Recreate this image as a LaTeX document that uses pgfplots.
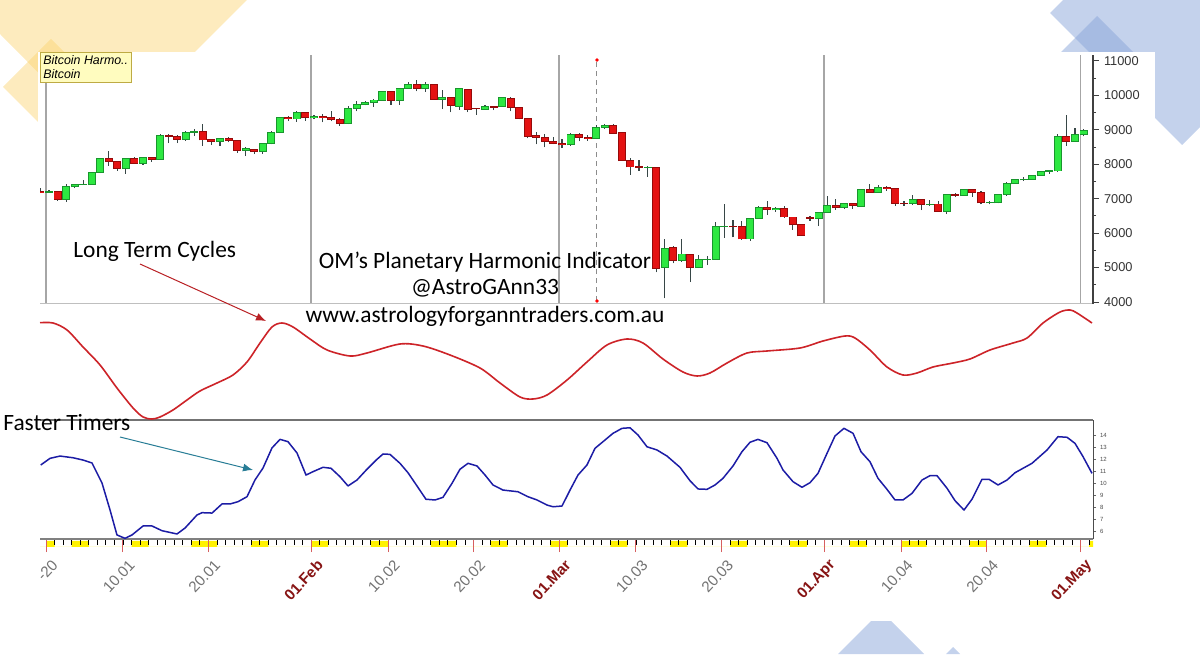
\documentclass[border=0pt]{standalone}
\usepackage{pgfplots}
\pgfplotsset{compat=1.18}
\usepackage{pgfplotstable}
\usetikzlibrary{arrows.meta}
\usepackage{fontspec}
\setmainfont{Carlito}
\newfontfamily\arial{Liberation Sans}
\definecolor{cG}{RGB}{45,232,65}
\definecolor{cGd}{RGB}{25,150,45}
\definecolor{cR}{RGB}{228,18,18}
\definecolor{cRd}{RGB}{150,10,10}
\definecolor{wick}{RGB}{55,70,70}
\definecolor{redline}{RGB}{205,35,40}
\definecolor{blueline}{RGB}{28,28,165}
\definecolor{dred}{RGB}{135,20,20}
\definecolor{ylw}{RGB}{255,242,0}
\definecolor{slideblue}{RGB}{137,165,217}
\definecolor{slideyel}{RGB}{250,210,110}
\definecolor{teal}{RGB}{40,125,150}
\definecolor{tickred}{RGB}{215,95,95}

% s = slot (trading day index from 1 Jan), o h l c
\pgfplotstableread{
s o h l c
0 7195 7255 7175 7200
2 6985 7413 6915 7345
3 7345 7428 7309 7411
4 7411 7544 7400 7411
5 7410 7781 7409 7769
6 7768 8178 7744 8163
9 7879 8166 7728 8166
11 8034 8197 7985 8193
13 8141 8880 8141 8828
16 8726 8958 8677 8929
17 8927 9012 8827 8942
20 8656 8756 8544 8745
23 8405 8515 8238 8445
25 8364 8602 8310 8597
26 8597 8977 8577 8910
27 8912 9370 8908 9358
29 9316 9553 9230 9508
31 9346 9439 9313 9393
35 9183 9701 9163 9614
36 9617 9824 9539 9730
37 9726 9849 9710 9796
38 9793 9890 9668 9866
39 9863 10130 9851 10117
41 9855 10210 9732 10207
42 10203 10393 10190 10327
44 10212 10380 10109 10313
46 9889 10164 9603 9935
48 9691 10190 9580 10186
51 9598 9723 9582 9687
53 9667 9955 9664 9925
61 8563 8921 8533 8869
64 8760 9142 8760 9078
65 9079 9167 9032 9122
70 7910 7951 7642 7911
72 5017 5838 4106 5564
74 5201 5836 5169 5393
76 5002 5371 4981 5226
77 5227 5331 5069 5239
78 5245 6329 5236 6192
79 6191 6844 5865 6199
82 5831 6443 5785 6417
83 6436 6789 6411 6734
85 6675 6764 6618 6716
90 6438 6612 6202 6607
91 6606 7088 6595 6794
93 6738 6878 6696 6865
95 6788 7271 6786 7271
97 7179 7385 7178 7335
101 6858 7119 6811 6971
103 6843 6958 6793 6843
105 6641 7134 6555 7117
107 7092 7269 7079 7257
110 6880 6934 6834 6880
111 6879 7145 6867 7117
112 7121 7491 7081 7429
113 7434 7574 7434 7550
114 7550 7641 7521 7570
115 7570 7700 7561 7680
116 7680 7796 7679 7795
117 7797 7814 7730 7807
118 7806 8871 7786 8801
120 8672 9048 8667 8864
121 8869 9011 8808 8988
}\up

\pgfplotstableread{
s o h l c
-1 7220 7300 7180 7195
1 7202 7212 6935 6985
7 8162 8397 7956 8079
8 8083 8083 7812 7879
10 8162 8218 8029 8037
12 8189 8197 8079 8144
14 8827 8890 8618 8807
15 8812 8846 8612 8723
18 8941 9165 8531 8706
19 8705 8745 8558 8658
21 8742 8792 8636 8681
22 8680 8687 8333 8407
24 8440 8444 8296 8368
28 9358 9406 9256 9317
30 9508 9521 9260 9351
32 9390 9468 9217 9345
33 9344 9540 9248 9294
34 9292 9331 9112 9181
40 10115 10129 9729 9857
43 10323 10457 10116 10215
45 10312 10341 9878 9889
47 9937 9954 9507 9702
49 10183 10193 9516 9593
50 9611 9638 9432 9609
52 9686 9686 9575 9664
54 9921 9951 9536 9651
55 9651 9652 9305 9341
56 9339 9339 8755 8820
57 8825 8933 8577 8785
58 8788 8888 8492 8673
59 8672 8790 8584 8599
60 8599 8726 8471 8563
62 8866 8908 8667 8788
63 8789 8844 8679 8756
66 9121 9163 8890 8909
67 8909 8910 8107 8108
68 8111 8177 7690 7923
69 7923 8136 7814 7909
71 7913 7929 4860 4970
73 5573 5625 5125 5201
75 5385 5385 4575 5015
80 6206 6378 5874 6185
81 6185 6359 5802 5831
84 6738 6942 6536 6681
86 6719 6793 6452 6470
87 6467 6467 6094 6243
88 6245 6250 5920 5922
89 6445 6500 6360 6440
92 6797 7003 6673 6734
94 6862 6883 6715 6791
96 7273 7427 7170 7176
98 7337 7365 7238 7303
99 7303 7303 6802 6866
100 6866 6940 6789 6859
102 6965 6965 6668 6846
104 6845 6928 6633 6642
106 7116 7167 7050 7097
108 7261 7273 7057 7190
109 7187 7220 6835 6882
119 8797 9440 8533 8658
}\down

\pgfplotsset{
  wickstyle/.style={draw=none, mark=none, forget plot,
    error bars/.cd, y dir=plus, y explicit, error mark=none,
    error bar style={draw=wick, line width=0.55pt, solid}},
  bodyout/.style={draw=none, mark=none, forget plot,
    error bars/.cd, y dir=plus, y explicit, error mark=none,
    error bar style={draw=#1, line width=4pt, solid}},
  bodyin/.style={draw=none, mark=none, forget plot,
    error bars/.cd, y dir=plus, y explicit, error mark=none,
    error bar style={draw=#1, line width=3.1pt, solid}},
}

\begin{document}
\begin{tikzpicture}
\useasboundingbox (0,0) rectangle (600pt,327pt);

% slide decorations
\begin{scope}[x=0.5pt,y=-0.5pt,yshift=327pt]
\clip (0,0) rectangle (1200,654);
\fill[slideyel,opacity=0.45] (0,0) -- (247,0) -- (106,141) -- (0,34) -- cycle;
\fill[slideyel,opacity=0.45] (51,39) -- (88,76) -- (40,124) -- (3,87) -- cycle;
\fill[slideblue,opacity=0.5] (1063,0) -- (1200,0) -- (1200,127) -- (1182,145) -- (1050,13) -- cycle;
\fill[slideblue,opacity=0.5] (1097,16) -- (1137,56) -- (1097,96) -- (1057,56) -- cycle;
\fill[slideblue,opacity=0.5] (881,611) -- (924,654) -- (838,654) -- cycle;
\fill[slideblue,opacity=0.5] (953,647) -- (960,654) -- (946,654) -- cycle;
\fill[white] (38,52) rectangle (1155,621);
\end{scope}

% ---------- candlestick panel ----------
\begin{axis}[at={(20pt,175pt)}, anchor=south west, scale only axis,
  width=526.5pt, height=124.5pt,
  xmin=-0.702, xmax=122.456, ymin=3942, ymax=11174,
  axis x line*=bottom, axis y line*=right,
  x axis line style={draw=black!25, line width=0.5pt, -},
  y axis line style={draw=black!75, line width=0.6pt, -},
  xtick={0,31,60,91,121}, xticklabel=\empty, xmajorgrids,
  major x tick style={draw=none},
  grid style={draw=black!35, line width=0.6pt},
  ytick={4000,5000,...,11000}, minor ytick={4500,5500,...,10500},
  scaled y ticks=false,
  tick align=outside, major tick length=3pt, minor tick length=1.6pt,
  y tick style={draw=black!75, line width=0.5pt},
  yticklabel style={font=\arial\fontsize{6.4}{7}\selectfont, text=black!80, xshift=-1pt,
    /pgf/number format/1000 sep={}, /pgf/number format/fixed},
  /pgf/number format/assume math mode=true,
]
\addplot[draw=black!45, dashed, dash pattern=on 2.5pt off 2pt, line width=0.5pt,
  mark=*, mark size=0.6pt, mark options={solid, fill=red, draw=red}]
  coordinates {(64.44,4029) (64.44,11028)};
\addplot[wickstyle] table[x expr=\thisrow{s}+0.35, y=l, y error expr={\thisrow{h}-\thisrow{l}}] \up;
\addplot[wickstyle] table[x expr=\thisrow{s}+0.35, y=l, y error expr={\thisrow{h}-\thisrow{l}}] \down;
\addplot[bodyout=cGd] table[x expr=\thisrow{s}+0.35, y expr={min(\thisrow{o},\thisrow{c})-15}, y error expr={abs(\thisrow{c}-\thisrow{o})+30}] \up;
\addplot[bodyin=cG] table[x expr=\thisrow{s}+0.35, y expr={min(\thisrow{o},\thisrow{c})+12}, y error expr={max(abs(\thisrow{c}-\thisrow{o})-24,0)}] \up;
\addplot[bodyout=cRd] table[x expr=\thisrow{s}+0.35, y expr={min(\thisrow{o},\thisrow{c})-15}, y error expr={abs(\thisrow{c}-\thisrow{o})+30}] \down;
\addplot[bodyin=cR] table[x expr=\thisrow{s}+0.35, y expr={min(\thisrow{o},\thisrow{c})+12}, y error expr={max(abs(\thisrow{c}-\thisrow{o})-24,0)}] \down;
\end{axis}

% ---------- long term cycles (red) ----------
\begin{axis}[at={(20pt,117pt)}, anchor=south west, scale only axis,
  width=526.5pt, height=57.5pt,
  xmin=-0.702, xmax=122.456, ymin=0, ymax=115,
  axis x line*=bottom, axis y line=none,
  x axis line style={draw=black!55, line width=0.8pt, -},
  xtick=\empty, ytick=\empty, clip=false]
\addplot[redline, line width=0.8pt, smooth, tension=0.5] coordinates {
(-0.70,97.3) (0.82,97) (2.46,90) (4.33,73) (6.32,55) (8.30,32) (10.18,12)
(11.35,3) (12.40,1) (13.33,3) (14.85,10) (16.49,20) (18.01,29) (20.0,37)
(21.87,45) (23.51,58) (25.03,77) (26.43,93) (27.60,97) (28.89,93) (30.88,81)
(32.87,70) (35.56,64) (37.54,67) (41.40,76) (44.09,74) (47.25,65) (50.76,52)
(53.10,37) (55.44,23) (56.96,21) (58.60,25) (60.94,40) (63.27,58) (65.61,75)
(67.95,81) (69.82,77) (72.16,61) (74.50,48) (76.14,44) (77.66,47) (79.65,57)
(81.99,67) (84.33,69) (88.19,72) (90.88,79) (93.45,84) (94.62,82) (96.37,70)
(98.36,53) (100.23,45) (101.87,47) (103.74,53) (106.08,57) (108.07,61)
(110.41,70) (113.10,77) (114.74,82) (116.61,97) (118.60,108) (119.77,110)
(120.58,107) (122.34,97)};
\end{axis}

% ---------- weekend / holiday strip ----------
\begin{axis}[at={(20pt,53.6pt)}, anchor=south west, scale only axis,
  width=526.5pt, height=3pt,
  xmin=-0.702, xmax=122.456, ymin=0, ymax=1,
  axis lines=none, xtick=\empty, ytick=\empty]
\addplot[const plot mark left, fill=ylw, draw=none] coordinates {
(-1,0)(0,1)(1,0)(3,1)(5,0)(10,1)(12,0)(17,1)(20,0)(24,1)(26,0)(31,1)(33,0)
(38,1)(40,0)(45,1)(48,0)(52,1)(54,0)(59,1)(61,0)(66,1)(68,0)(73,1)(75,0)
(80,1)(82,0)(87,1)(89,0)(94,1)(96,0)(100,1)(103,0)(108,1)(110,0)(115,1)
(117,0)(122,1)(123,0)} \closedcycle;
\end{axis}

% ---------- faster timers (blue) ----------
\begin{axis}[at={(20pt,57.5pt)}, anchor=south west, scale only axis,
  width=526.5pt, height=59.5pt,
  xmin=-0.702, xmax=122.456, ymin=5.405, ymax=15.24,
  axis x line*=bottom, axis y line=none,
  x axis line style={draw=black!50, line width=1pt, -},
  xtick={0,9,19,31,40,50,60,69,79,91,100,110,121},
  minor xtick={0,1,...,122},
  xticklabels={-20,10.01,20.01,\textbf{\color{dred}01.Feb},10.02,20.02,\textbf{\color{dred}01.Mar},10.03,20.03,\textbf{\color{dred}01.Apr},10.04,20.04,\textbf{\color{dred}01.May}},
  tick align=outside, ytick=\empty,
  major x tick style={draw=tickred, line width=0.5pt},
  minor x tick style={draw=black, line width=0.45pt},
  major tick length=6.5pt, minor tick length=3pt,
  xticklabel style={font=\arial\fontsize{7.6}{8}\selectfont, text=black!55, rotate=47, anchor=east, xshift=2.75pt, yshift=-6.75pt},
  clip=false]
\addplot[blueline, line width=0.75pt, line join=round] coordinates {
(-0.62,11.52) (0.47,12.07) (1.64,12.26) (3.16,12.12) (4.33,11.93) (5.38,11.69)
(6.55,10.03) (7.49,7.80) (8.30,5.74) (9.24,5.46) (10.06,5.74) (11.35,6.48)
(12.40,6.48) (13.57,6.09) (15.32,5.82) (16.26,6.31) (17.66,7.39) (18.25,7.58)
(19.42,7.55) (20.58,8.30) (21.52,8.30) (22.46,8.49) (23.51,8.90) (24.44,10.28)
(25.38,11.27) (26.43,12.93) (27.37,13.64) (28.30,13.45) (29.36,12.51)
(30.41,10.69) (31.23,10.97) (32.40,11.33) (33.33,11.25) (34.39,10.55)
(35.32,9.79) (36.37,10.28) (37.54,11.17) (38.71,11.99) (39.42,12.43)
(40.23,12.40) (41.40,11.66) (42.34,10.88) (43.39,9.79) (44.44,8.69)
(45.50,8.63) (46.43,8.85) (47.49,10.01) (48.42,11.17) (49.36,11.66)
(50.41,11.44) (51.35,10.69) (52.28,9.87) (53.45,9.45) (55.20,9.31)
(56.37,8.90) (57.43,8.63) (58.60,8.21) (59.30,8.07) (60.35,8.13) (61.29,9.45)
(62.22,10.69) (63.27,11.52) (64.21,12.90) (65.15,13.45) (66.32,14.14)
(67.37,14.55) (68.30,14.60) (69.24,14.00) (70.29,13.03) (71.46,12.76)
(72.63,12.26) (74.15,11.33) (75.32,10.22) (76.26,9.54) (77.31,9.51)
(78.25,9.87) (79.18,10.42) (80.35,11.44) (81.40,12.62) (82.34,13.40)
(83.27,13.64) (84.33,13.36) (85.50,12.07) (86.20,11.11) (87.37,10.14)
(88.42,9.68) (89.36,10.06) (90.29,10.83) (91.35,12.49) (92.28,13.92)
(93.33,14.55) (94.39,14.14) (95.32,12.62) (96.37,11.79) (97.31,10.42)
(98.36,9.51) (99.30,8.63) (100.23,8.63) (101.29,9.18) (102.46,10.28)
(103.39,10.64) (104.21,10.64) (105.38,9.60) (106.32,8.57) (107.37,7.80)
(108.30,8.69) (109.47,10.34) (110.29,10.34) (111.35,9.87) (112.40,10.28)
(113.33,10.88) (115.32,11.66) (117.08,12.76) (118.36,13.86) (119.42,13.81)
(120.35,13.31) (121.29,12.21) (122.34,10.83)};
\end{axis}

% right scale of the blue panel
\begin{axis}[at={(20pt,57.5pt)}, anchor=south west, scale only axis,
  width=526.5pt, height=59.5pt,
  xmin=-0.702, xmax=122.456, ymin=5.405, ymax=15.24,
  axis x line=none, axis y line*=right,
  y axis line style={draw=black!70, line width=0.5pt, -},
  xtick=\empty, ytick={6,...,14},
  tick align=outside, major tick length=1.5pt,
  y tick style={draw=black!60, line width=0.4pt},
  yticklabel style={font=\arial\fontsize{3}{3.5}\selectfont, text=black!70, xshift=-1.5pt},
  /pgf/number format/assume math mode=true]
\end{axis}

% ---------- annotations ----------
\begin{scope}[x=0.5pt,y=-0.5pt,yshift=327pt]
\draw[draw=black!30!yellow!70!brown, fill=yellow!25, line width=0.4pt] (40,52) rectangle (131,82);
\node[anchor=west, inner sep=0pt, font=\arial\itshape\fontsize{6.2}{7}\selectfont] at (43,60) {Bitcoin Harmo..};
\node[anchor=west, inner sep=0pt, font=\arial\itshape\fontsize{6.2}{7}\selectfont] at (43,74) {Bitcoin};
\node[anchor=west, inner sep=0pt, font=\fontsize{11.7}{13}\selectfont] at (73,251) {Long Term Cycles};
\node[inner sep=0pt, font=\fontsize{11.7}{13}\selectfont] at (485,262) {OM’s Planetary Harmonic Indicator};
\node[inner sep=0pt, font=\fontsize{11.7}{13}\selectfont] at (485,288) {@AstroGAnn33};
\node[inner sep=0pt, font=\fontsize{11.7}{13}\selectfont] at (485,316) {www.astrologyforganntraders.com.au};
\node[anchor=west, inner sep=0pt, font=\fontsize{11.7}{13}\selectfont] at (3,423) {Faster Timers};
\draw[redline!90!black, line width=0.5pt, -{Latex[length=5pt,width=4pt]}] (140,264) -- (266,321);
\draw[teal, line width=0.5pt, -{Latex[length=5pt,width=4pt]}] (120,437) -- (253,470);
\end{scope}
\end{tikzpicture}
\end{document}
